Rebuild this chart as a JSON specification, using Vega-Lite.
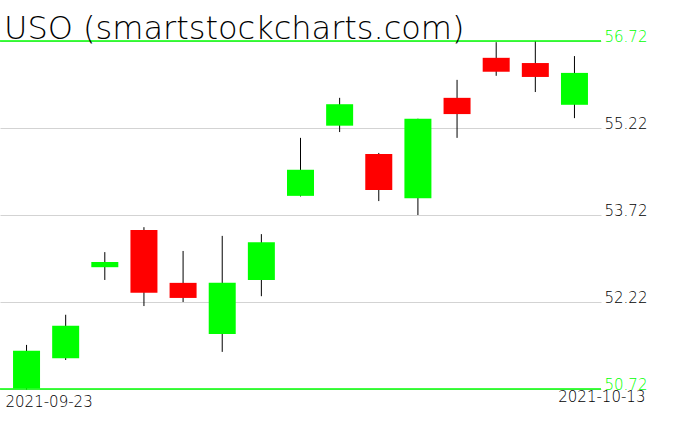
{
  "$schema": "https://vega.github.io/schema/vega-lite/v6.json",
  "width": 601,
  "height": 348,
  "autosize": "none",
  "padding": {"left": 0, "top": 41, "right": 75, "bottom": 42},
  "background": "white",
  "title": {
    "text": "USO (smartstockcharts.com)",
    "anchor": "start",
    "frame": "group",
    "offset": -42,
    "baseline": "alphabetic",
    "dx": 4,
    "font": "DejaVu Sans",
    "fontSize": 32,
    "fontWeight": 200,
    "color": "black"
  },
  "config": {
    "view": {"stroke": null},
    "font": "DejaVu Sans"
  },
  "datasets": {
    "candles": [
      {"date": "2021-09-23", "open": 50.73, "high": 51.48, "low": 50.71, "close": 51.38},
      {"date": "2021-09-24", "open": 51.25, "high": 52.00, "low": 51.22, "close": 51.81},
      {"date": "2021-09-27", "open": 52.82, "high": 53.08, "low": 52.60, "close": 52.91},
      {"date": "2021-09-28", "open": 53.46, "high": 53.51, "low": 52.15, "close": 52.38},
      {"date": "2021-09-29", "open": 52.55, "high": 53.10, "low": 52.22, "close": 52.29},
      {"date": "2021-09-30", "open": 51.67, "high": 53.36, "low": 51.36, "close": 52.55},
      {"date": "2021-10-01", "open": 52.60, "high": 53.39, "low": 52.32, "close": 53.25},
      {"date": "2021-10-04", "open": 54.05, "high": 55.05, "low": 54.04, "close": 54.50},
      {"date": "2021-10-05", "open": 55.26, "high": 55.74, "low": 55.15, "close": 55.63},
      {"date": "2021-10-06", "open": 54.77, "high": 54.79, "low": 53.96, "close": 54.15},
      {"date": "2021-10-07", "open": 54.01, "high": 55.38, "low": 53.72, "close": 55.38},
      {"date": "2021-10-08", "open": 55.74, "high": 56.05, "low": 55.05, "close": 55.46},
      {"date": "2021-10-11", "open": 56.43, "high": 56.70, "low": 56.12, "close": 56.19},
      {"date": "2021-10-12", "open": 56.34, "high": 56.72, "low": 55.84, "close": 56.10},
      {"date": "2021-10-13", "open": 55.62, "high": 56.46, "low": 55.39, "close": 56.17}
    ],
    "bounds": [
      {"price": 50.72},
      {"price": 56.72}
    ],
    "dateLabels": [
      {"date": "2021-09-23", "price": 50.72, "side": "first"},
      {"date": "2021-10-13", "price": 50.72, "side": "last"}
    ]
  },
  "layer": [
    {
      "data": {"name": "candles"},
      "mark": {"type": "rule", "color": "black", "strokeWidth": 1},
      "encoding": {
        "x": {
          "field": "date",
          "type": "ordinal",
          "scale": {"type": "point", "padding": 0.678},
          "axis": null
        },
        "y": {
          "field": "low",
          "type": "quantitative",
          "scale": {"domain": [50.72, 56.72], "zero": false, "nice": false},
          "axis": {
            "orient": "right",
            "title": null,
            "values": [50.72, 52.22, 53.72, 55.22, 56.72],
            "format": ".2f",
            "domain": false,
            "ticks": false,
            "grid": true,
            "gridColor": "#d3d3d3",
            "gridOpacity": 1,
            "gridWidth": 1,
            "labelAlign": "left",
            "labelBaseline": "alphabetic",
            "labelPadding": 3,
            "labelFont": "DejaVu Sans",
            "labelFontSize": 15,
            "labelFontWeight": 200,
            "labelColor": {
              "condition": {"test": "datum.value < 50.8 || datum.value > 56.7", "value": "#00ff00"},
              "value": "black"
            }
          }
        },
        "y2": {"field": "high"}
      }
    },
    {
      "data": {"name": "bounds"},
      "mark": {"type": "rule", "color": "#00ff00", "strokeWidth": 1.5},
      "encoding": {
        "y": {"field": "price", "type": "quantitative"}
      }
    },
    {
      "data": {"name": "candles"},
      "mark": {"type": "bar", "size": 27},
      "encoding": {
        "x": {"field": "date", "type": "ordinal"},
        "y": {"field": "open", "type": "quantitative"},
        "y2": {"field": "close"},
        "color": {
          "condition": {"test": "datum.close >= datum.open", "value": "#00ff00"},
          "value": "#ff0000"
        }
      }
    },
    {
      "data": {"name": "dateLabels"},
      "transform": [{"filter": "datum.side === 'first'"}],
      "mark": {"type": "text", "align": "left", "baseline": "top", "dx": -21, "dy": 6, "fontSize": 15, "fontWeight": 200, "color": "black"},
      "encoding": {
        "x": {"field": "date", "type": "ordinal"},
        "y": {"field": "price", "type": "quantitative"},
        "text": {"field": "date"}
      }
    },
    {
      "data": {"name": "dateLabels"},
      "transform": [{"filter": "datum.side === 'last'"}],
      "mark": {"type": "text", "align": "right", "baseline": "top", "dx": 71, "dy": 1, "fontSize": 15, "fontWeight": 200, "color": "black"},
      "encoding": {
        "x": {"field": "date", "type": "ordinal"},
        "y": {"field": "price", "type": "quantitative"},
        "text": {"field": "date"}
      }
    }
  ]
}
